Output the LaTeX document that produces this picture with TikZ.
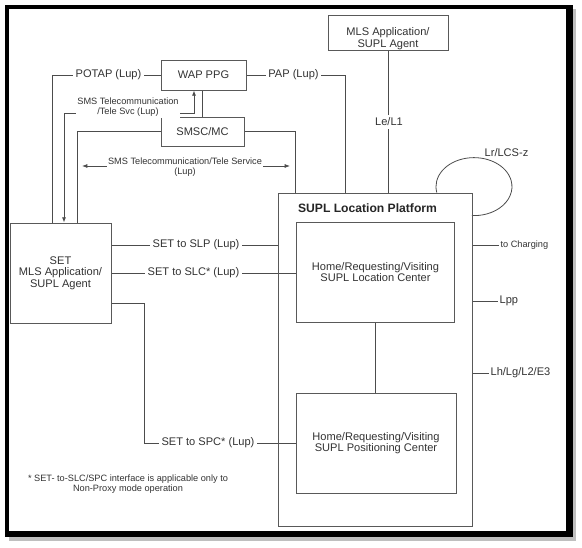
\documentclass[tikz,border=0pt]{standalone}
\usepackage{fontspec}
\setmainfont{Liberation Sans}
\usetikzlibrary{positioning,backgrounds,calc,arrows.meta}

\begin{document}
\begin{tikzpicture}[x=0.75pt,y=-0.75pt,
	box/.style={draw=black!65,line width=0.6pt,text=black!80,align=center,inner sep=0pt,font=\fontsize{8.3}{8.7}\selectfont},
	lbl/.style={fill=white,text=black!80,inner sep=2pt,font=\fontsize{8.3}{8.7}\selectfont},
	smalllbl/.style={fill=white,text=black!80,inner sep=1pt,align=center,font=\fontsize{6.9}{7.6}\selectfont},
	stub/.style={anchor=west,text=black!80,inner sep=1pt,font=\fontsize{8.3}{8.7}\selectfont},
	conn/.style={draw=black!70,line width=0.6pt},
	onearrow/.style={-{Latex[length=4pt,width=3pt]}},
	twoarrows/.style={{Latex[length=4pt,width=3pt]}-{Latex[length=4pt,width=3pt]}}]
		\useasboundingbox (0,0) rectangle (582,547);
		% boxes
		\node[box,minimum width=63.75pt,minimum height=22.5pt] (wap) at (203.5,75) {WAP PPG};
		\node[box,minimum width=62.25pt,minimum height=21.75pt] (smsc) at (202.5,131.5) {SMSC/MC};
		\node[box,minimum width=90pt,minimum height=26.25pt] (mls) at (388,32.5) {};
		\node[box,draw=none] (mlstext) at ($(mls.center)+(0,6)$) {MLS Application/\\SUPL Agent};
		\node[box,minimum width=75.75pt,minimum height=75pt] (set) at (60.5,273) {SET\\MLS Application/\\SUPL Agent};
		\node[box,minimum width=145.5pt,minimum height=249.75pt] (slp) at (375,359.5) {};
		\node[box,minimum width=118.5pt,minimum height=75pt] (slc) at (375.5,272) {Home/Requesting/Visiting\\SUPL Location Center};
		\node[box,minimum width=120pt,minimum height=75pt] (spc) at (376,443) {Home/Requesting/Visiting\\SUPL Positioning Center};
		\node[text=black!85,font=\bfseries\fontsize{9.1}{10}\selectfont] (slptitle) at (367.5,208) {SUPL Location Platform};
		% labels
		\node[lbl] (potap) at (108.5,75) {POTAP (Lup)};
		\node[lbl] (pap) at (293.5,75) {PAP (Lup)};
		\node[smalllbl] (svc) at (128,107) {SMS Telecommunication\\/Tele Svc (Lup)};
		\node[smalllbl] (smsserv) at (185,167) {SMS Telecommunication/Tele Service\\(Lup)};
		\node[lbl] (lel1) at (389,122) {Le/L1};
		\node[stub,anchor=center] (lrlcs) at (506.5,153) {Lr/LCS-z};
		\node[stub,font=\fontsize{6.9}{7.6}\selectfont] (chg) at (499,245) {to Charging};
		\node[stub] (lpp) at (498,301) {Lpp};
		\node[stub] (lh) at (489,373) {Lh/Lg/L2/E3};
		\node[lbl] (slpl) at (196,245) {SET to SLP (Lup)};
		\node[lbl] (slcl) at (193.5,273) {SET to SLC* (Lup)};
		\node[lbl] (spcl) at (208,443) {SET to SPC* (Lup)};
		\node[smalllbl,fill=none] (note) at (128,484.5) {* SET- to-SLC/SPC interface is applicable only to\\Non-Proxy mode operation};
		% bends
		\coordinate (xpotap) at (52,0);
		\coordinate (xsvcl) at (64,113);
		\coordinate (xsvcr) at (194,113);
		\coordinate (xsmsl) at (77,0);
		\coordinate (xsmsr) at (295,0);
		\coordinate (xpap) at (345,0);
		\coordinate (smsl) at (82,166);
		\coordinate (smsr) at (290,166);
		\coordinate (lrx) at (436.8,0);
		\coordinate (xspc) at (144,303);
		\begin{scope}[on background layer]
		\fill[black!25] (9,9) rectangle (576,541);
		\fill[black] (5,5) rectangle (573,537);
		\fill[white] (9,9) rectangle (566,531);
		\draw[conn] (set.north -| xpotap) |- (wap.west);
		\draw[conn] (wap.east) -| (slp.north -| xpap);
		\draw[conn] (smsc.north |- wap.south) -- (smsc.north);
		\draw[conn,twoarrows] (set.north -| xsvcl) |- (xsvcr) -- (wap.south -| xsvcr);
		\draw[conn] (smsc.west) -| (set.north -| xsmsl);
		\draw[conn] (smsc.east) -| (slp.north -| xsmsr);
		\draw[conn,twoarrows] (smsl) -- (smsr);
		\draw[conn] (mls.south) -- (slp.north -| mls.south);
		\draw[conn] (slp.north -| lrx) arc[start angle=168.1,end angle=453,x radius=38,y radius=29];
		\draw[conn] (slp.east |- chg) -- (chg.west);
		\draw[conn] (slp.east |- lpp) -- (lpp.west);
		\draw[conn] (slp.east |- lh) -- (lh.west);
		\draw[conn] (set.east |- slpl) -- (slp.west |- slpl);
		\draw[conn] (set.east |- slcl) -- (slc.west |- slcl);
		\draw[conn] (set.east |- xspc) -- (xspc) |- (spc.west);
		\draw[conn] (slc.south) -- (slc.south |- spc.north);
		\end{scope}
\end{tikzpicture}
\end{document}
